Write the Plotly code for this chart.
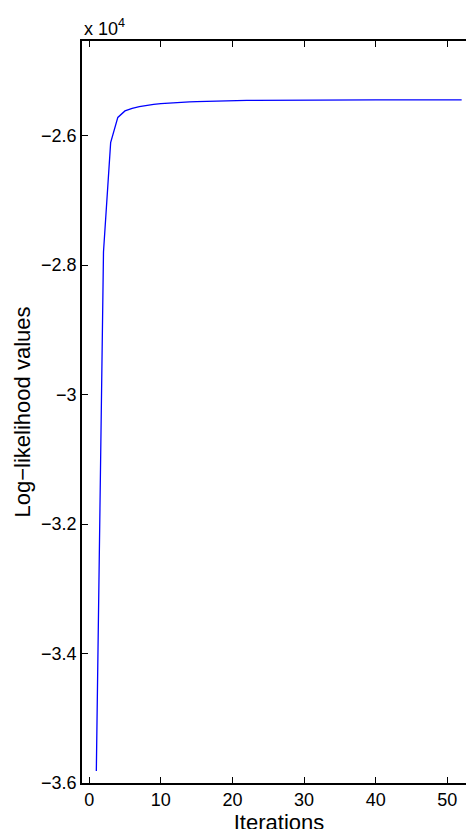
import plotly.graph_objects as go

iterations = list(range(1, 53))
loglik = [-35815, -27800, -26110, -25720, -25620, -25580, -25555, -25535, -25520, -25508,
          -25498, -25490, -25484, -25479, -25475, -25471, -25468, -25465, -25463, -25461,
          -25459, -25457, -25456, -25455, -25454, -25453, -25452, -25451, -25450, -25450] + [-25449]*11 + [-25448]*11
xticks = [0, 10, 20, 30, 40, 50]
yticks = [-36000, -34000, -32000, -30000, -28000, -26000]
ylabels = ["−3.6", "−3.4", "−3.2", "−3", "−2.8", "−2.6"]

fig = go.Figure(go.Scatter(x=iterations, y=loglik, mode="lines",
                           line=dict(color="#0000ff", width=1.3), showlegend=False))
ax = dict(showline=True, mirror="ticks", linecolor="black", linewidth=1.5, ticks="inside",
          ticklen=6, tickcolor="black", showgrid=False, zeroline=False)
fig.update_xaxes(range=[-1, 54], tickvals=xticks, title=dict(text="Iterations", standoff=0), **ax)
fig.update_yaxes(range=[-36000, -24540], tickvals=yticks, ticktext=ylabels,
                 title=dict(text="Log−likelihood values", standoff=4), **ax)
fig.add_annotation(xref="paper", yref="paper", x=0, y=1, xanchor="left", yanchor="bottom",
                   text="x 10<sup>4</sup>", showarrow=False, font=dict(size=18))
fig.update_layout(width=474, height=829, plot_bgcolor="white", paper_bgcolor="white",
                  margin=dict(l=74, r=4, t=33, b=54),
                  font=dict(family="Liberation Sans, Arial", size=18, color="black"))
fig.write_html("out.html")
